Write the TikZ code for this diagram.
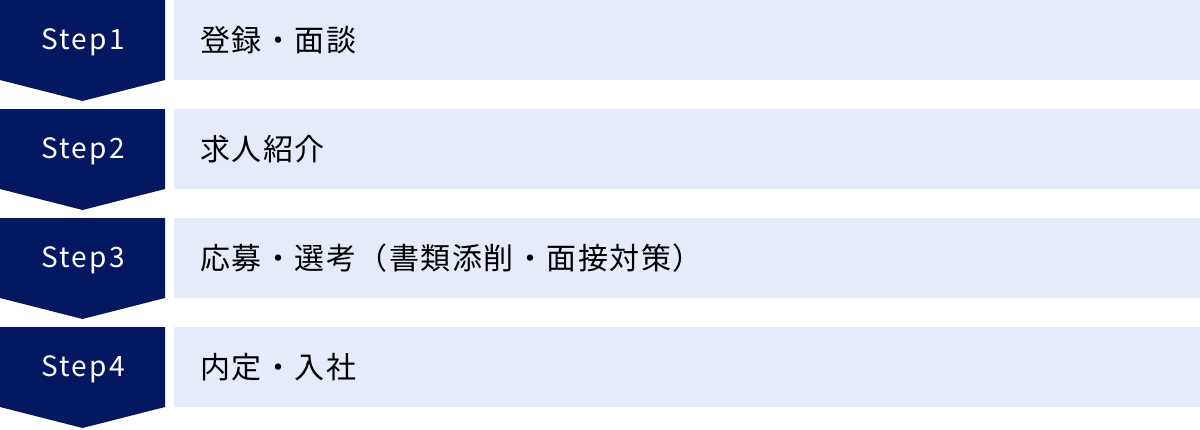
\documentclass[tikz,border=0pt]{standalone}
\usepackage{fontspec}
\usepackage{xcolor}
\usepackage{tikz}
\setmainfont{Noto Sans CJK JP}
\newfontfamily\stepfont[LetterSpace=8]{Noto Sans CJK JP}
\newfontfamily\jpfont[LetterSpace=5]{Noto Sans CJK JP}
\definecolor{navy}{RGB}{3,24,96}
\definecolor{paleblue}{RGB}{229,235,249}
\usetikzlibrary{positioning}

\begin{document}
\begin{tikzpicture}[x=1pt, y=-1pt,
      chev/.style={fill=navy},
      panel/.style={fill=paleblue, minimum width=1026pt, minimum height=80pt, inner sep=0pt, anchor=north west},
      steplbl/.style={text=white, font=\stepfont\fontsize{28}{32}\selectfont},
      txt/.style={text=black, anchor=west, inner sep=0pt, font=\jpfont\fontsize{30}{34}\selectfont},
    ]
    \useasboundingbox (0,0) rectangle (1200,429);
    % Steps
    \foreach \i/\lbl [evaluate=\i as \y using (\i-1)*109] in {1/登録・面談, 2/求人紹介, 3/応募・選考（書類添削・面接対策）, 4/内定・入社}{
      \fill[chev] (0,\y) -- (165,\y) -- (165,\y+80) -- (82.5,\y+101) -- (0,\y+80) -- cycle;
      \node[steplbl] (step\i) at (83,\y+42) {Step\i};
      \node[panel] (box\i) at (174,\y) {};
      \node[txt, right=26pt of box\i.west] (txt\i) {\lbl};
    }
  \end{tikzpicture}
\end{document}
